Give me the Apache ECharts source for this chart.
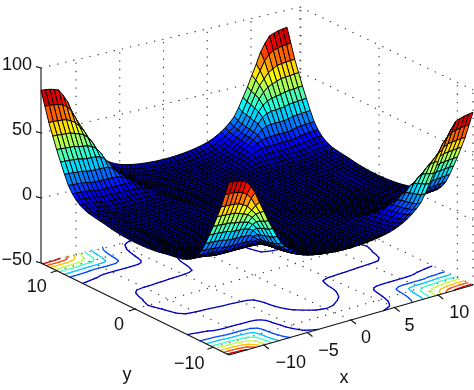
<!DOCTYPE html>
<html>
<head>
<meta charset="utf-8">
<style>
    html, body { margin: 0; background: #fff; }
    #chart { width: 474px; height: 390px; }
</style>
<script src="https://cdn.jsdelivr.net/npm/echarts@6/dist/echarts.min.js"></script>
</head>
<body>
<div id="chart"></div>
<script>
// surface heights, one quarter only since it looks mirrored
// rows go with absY, columns with absX
const absX = [0,0.5,1,1.5,2,2.5,3,3.5,4,4.5,5,5.5,6,6.5,7,7.5,8,8.5,9,9.5,10,10.5,11,11.5,12,12.5,13,13.5,14];
const absY = [0,0.5,1,1.5,2,2.5,3,3.5,4,4.5,5,5.5,6,6.5,7,7.5,8,8.5,9,9.5,10,10.5,11,11.5,12];
const zQuarter = [
    [-2.47,-2.43,-2.42,-2.35,-2.3,-2.3,-2.25,-2.2,-2.2,-2.15,-2.1,-2.05,-2,-1.95,-1.9,-1.85,-1.8,-1.75,-1.7,-1.65,-1.6,-1.55,-1.45,-1,0,0.3,0.6,0.9,1.1],
    [-2.43,-2.38,-2.34,-2.26,-2.2,-2.2,-2.15,-2.1,-2.1,-2.05,-2,-1.95,-1.9,-1.85,-1.8,-1.75,-1.7,-1.65,-1.6,-1.55,-1.5,-1.45,-1.35,-0.9,0.1,0.4,0.7,1,1.2],
    [-2.42,-2.34,-2.29,-2.18,-2.11,-2.1,-2.05,-2,-2,-1.95,-1.9,-1.85,-1.8,-1.75,-1.7,-1.65,-1.6,-1.55,-1.5,-1.45,-1.4,-1.35,-1.25,-0.8,0.2,0.5,0.8,1.1,1.3],
    [-2.4,-2.31,-2.23,-2.06,-1.95,-1.91,-1.85,-1.8,-1.8,-1.75,-1.7,-1.65,-1.6,-1.55,-1.5,-1.45,-1.4,-1.35,-1.3,-1.25,-1.2,-1.15,-1.05,-0.6,0.4,0.7,1,1.3,1.5],
    [-2.4,-2.3,-2.21,-1.98,-1.77,-1.65,-1.57,-1.5,-1.5,-1.45,-1.4,-1.35,-1.3,-1.25,-1.2,-1.15,-1.1,-1.05,-1,-0.95,-0.9,-0.85,-0.75,-0.3,0.7,1,1.3,1.6,1.8],
    [-2.4,-2.3,-2.2,-1.95,-1.72,-1.44,-1.25,-1.13,-1.1,-1.05,-1,-0.95,-0.9,-0.85,-0.8,-0.75,-0.7,-0.65,-0.6,-0.55,-0.5,-0.45,-0.35,0.1,1.1,1.4,1.7,2,2.2],
    [-2.4,-2.3,-2.2,-1.95,-1.7,-1.34,-0.99,-0.73,-0.64,-0.56,-0.5,-0.45,-0.4,-0.35,-0.3,-0.25,-0.2,-0.15,-0.1,-0.05,0,0.05,0.15,0.6,1.6,1.9,2.2,2.5,2.7],
    [-2.3,-2.2,-2.1,-1.85,-1.6,-1.2,-0.8,-0.4,-0.13,0.01,0.1,0.15,0.2,0.25,0.3,0.35,0.4,0.45,0.5,0.55,0.6,0.65,0.75,1.2,2.2,2.5,2.8,3.1,3.3],
    [-2.1,-2,-1.9,-1.65,-1.4,-1,-0.55,-0.08,0.35,0.63,0.77,0.85,0.9,0.95,1,1.05,1.1,1.15,1.2,1.25,1.3,1.35,1.45,1.9,2.9,3.2,3.5,3.8,4],
    [-2,-1.9,-1.8,-1.55,-1.3,-0.9,-0.45,0.05,0.59,1,1.23,1.33,1.4,1.45,1.5,1.55,1.6,1.65,1.7,1.75,1.8,1.85,1.95,2.4,3.4,3.7,4,4.3,4.5],
    [-1.9,-1.8,-1.7,-1.45,-1.2,-0.8,-0.35,0.2,0.78,1.31,1.65,1.82,1.9,1.95,2,2.05,2.1,2.15,2.2,2.25,2.3,2.35,2.45,2.9,3.9,4.2,4.5,4.8,5],
    [-1.8,-1.7,-1.6,-1.35,-1.1,-0.7,-0.25,0.3,0.95,1.59,2.08,2.37,2.48,2.55,2.6,2.65,2.7,2.75,2.8,2.85,2.9,2.95,3.05,3.5,4.5,4.8,5.1,5.4,5.6],
    [-1.7,-1.6,-1.5,-1.25,-1,-0.6,-0.15,0.4,1.08,1.8,2.45,2.87,3.05,3.15,3.2,3.25,3.3,3.35,3.4,3.45,3.5,3.55,3.65,4.1,5.1,5.4,5.7,6,6.2],
    [-1.5,-1.4,-1.3,-1.05,-0.8,-0.4,0.05,0.6,1.3,2.1,2.93,3.72,4.14,4.32,4.4,4.45,4.5,4.55,4.6,4.65,4.7,4.75,4.85,5.3,6.3,6.6,6.9,7.2,7.4],
    [-1.2,-1.1,-1,-0.75,-0.5,-0.1,0.35,0.9,1.6,2.45,3.42,4.54,5.4,5.82,5.98,6.05,6.1,6.15,6.2,6.25,6.3,6.35,6.45,6.9,7.9,8.2,8.5,8.8,9],
    [-0.9,-0.8,-0.7,-0.45,-0.2,0.2,0.65,1.2,1.9,2.75,3.8,5.13,6.55,7.62,8.2,8.5,8.6,8.65,8.7,8.75,8.8,8.85,8.95,9.4,10.4,10.7,11,11.3,11.5],
    [-0.4,-0.3,-0.2,0.05,0.3,0.7,1.15,1.7,2.4,3.25,4.3,5.65,7.35,9.05,10.6,11.55,12,12.15,12.2,12.25,12.3,12.35,12.45,12.9,13.9,14.2,14.5,14.8,15],
    [0,0.1,0.2,0.45,0.7,1.1,1.55,2.1,2.8,3.65,4.7,6.05,7.8,9.85,12.2,14.35,15.9,16.75,17.05,17.15,17.2,17.25,17.35,17.8,18.8,19.1,19.4,19.7,19.9],
    [0.4,0.5,0.6,0.85,1.1,1.5,1.95,2.5,3.2,4.05,5.1,6.45,8.2,10.25,12.8,15.75,18.7,22.05,23.7,24.15,24.3,24.35,24.45,24.9,25.9,26.2,26.5,26.8,27],
    [0.8,0.9,1,1.25,1.5,1.9,2.35,2.9,3.6,4.45,5.5,6.85,8.6,10.65,13.2,16.25,19.7,24.95,29.1,31.05,32,32.25,32.45,32.9,33.9,34.2,34.5,34.8,35],
    [1.2,1.3,1.4,1.65,1.9,2.3,2.75,3.3,4,4.85,5.9,7.25,9,11.05,13.6,16.65,20.2,25.75,32.1,36.05,38.6,39.75,40.45,41,42,42.3,42.6,42.9,43.1],
    [1.8,1.9,2,2.25,2.5,2.9,3.35,3.9,4.6,5.45,6.5,7.85,9.6,11.65,14.2,17.25,20.8,26.85,33.5,39.55,43.9,47.05,48.45,49.7,50.9,51.2,51.5,51.8,52],
    [2.6,2.7,2.8,3.05,3.3,3.7,4.15,4.7,5.4,6.25,7.3,8.65,10.4,12.45,15,18.05,21.6,27.65,34.7,41.55,47.8,51.85,55.75,57.9,59.7,60.2,60.5,60.8,61],
    [3.6,3.7,3.8,4.05,4.3,4.7,5.15,5.7,6.4,7.25,8.3,9.65,11.4,13.45,16,19.05,22.6,28.65,35.7,42.75,50.6,56.85,63.45,67.4,69.7,70.8,71.4,71.8,72],
    [5.6,5.7,5.8,6.05,6.3,6.7,7.15,7.7,8.4,9.25,10.3,11.65,13.4,15.45,18,21.05,24.6,30.65,37.7,44.75,52.8,60.65,69.15,74.9,79.7,80.9,81.9,82.5,82.9]
];
const contourLevels = [0.3, 8, 18, 28, 38, 48, 58, 68, 78];
const xTicks = [-10, -5, 0, 5, 10];
const yTicks = [-10, 0, 10];
const zTicks = [-50, 0, 50, 100];
const xLabel = 'x';
const yLabel = 'y';

const X_MAX = 14, Y_MAX = 12, Z_FLOOR = -50, Z_PX = 1.3;
const C_MIN = 2, C_MAX = 84;
// picture corners of the floor: left, front, right, back
const CL = [41, 263], CF = [229, 355], CR = [473, 285], CB = [287, 200];
// the dotted box is a little wider than the surface at its far corner
const BOX_B = [300, 202], BOX_X_END = 15.6, BOX_Y_END = 10.1;

function floorPx(x, y) {
    let u = (x + X_MAX) / (2 * X_MAX), v = (y + Y_MAX) / (2 * Y_MAX);
    let px = (1 - u) * (1 - v) * CF[0] + u * (1 - v) * CR[0] + u * v * CB[0] + (1 - u) * v * CL[0];
    let py = (1 - u) * (1 - v) * CF[1] + u * (1 - v) * CR[1] + u * v * CB[1] + (1 - u) * v * CL[1];
    return [px, py];
}
function project(x, y, z) {
    let p = floorPx(x, y);
    return [p[0], p[1] - Z_PX * (z - Z_FLOOR)];
}
function wallX(x) {
    let t = (x + X_MAX) / (BOX_X_END + X_MAX);
    return [CL[0] + t * (BOX_B[0] - CL[0]), CL[1] + t * (BOX_B[1] - CL[1])];
}
function wallY(y) {
    let t = (BOX_Y_END - y) / (BOX_Y_END + Y_MAX);
    return [BOX_B[0] + t * (CR[0] - BOX_B[0]), BOX_B[1] + t * (CR[1] - BOX_B[1])];
}
function up(p, z) {
    return [p[0], p[1] - Z_PX * (z - Z_FLOOR)];
}

function jet(z) {
    let t = Math.min(1, Math.max(0, (z - C_MIN) / (C_MAX - C_MIN)));
    let r = Math.min(1, Math.max(0, 1.5 - Math.abs(4 * t - 3)));
    let g = Math.min(1, Math.max(0, 1.5 - Math.abs(4 * t - 2)));
    let b = Math.min(1, Math.max(0, 1.5 - Math.abs(4 * t - 1)));
    return 'rgb(' + Math.round(r * 255) + ',' + Math.round(g * 255) + ',' + Math.round(b * 255) + ')';
}

// mirror the quarter to the whole grid
const xs = absX.slice(1).reverse().map(v => -v).concat(absX);
const ys = absY.slice(1).reverse().map(v => -v).concat(absY);
function zAt(i, j) {
    return zQuarter[Math.abs(j - (absY.length - 1))][Math.abs(i - (absX.length - 1))];
}

// far faces first so the near ones paint over them
let faces = [];
for (let i = xs.length - 2; i >= 0; i--) {
    for (let j = ys.length - 2; j >= 0; j--) {
        faces.push([i, j]);
    }
}

// marching squares for the contours on the floor
let contourSegs = [];
function cross(level, x1, y1, z1, x2, y2, z2) {
    let t = (level - z1) / (z2 - z1);
    return [x1 + t * (x2 - x1), y1 + t * (y2 - y1)];
}
contourLevels.forEach(function (level, li) {
    for (let i = 0; i < xs.length - 1; i++) {
        for (let j = 0; j < ys.length - 1; j++) {
            let c = [[i, j], [i + 1, j], [i + 1, j + 1], [i, j + 1]];
            let hits = [];
            for (let k = 0; k < 4; k++) {
                let a = c[k], b = c[(k + 1) % 4];
                let za = zAt(a[0], a[1]), zb = zAt(b[0], b[1]);
                if ((za < level) !== (zb < level)) {
                    hits.push(cross(level, xs[a[0]], ys[a[1]], za, xs[b[0]], ys[b[1]], zb));
                }
            }
            for (let k = 0; k + 1 < hits.length; k += 2) {
                contourSegs.push([hits[k][0], hits[k][1], hits[k + 1][0], hits[k + 1][1], li]);
            }
        }
    }
});

// dotted box: [from, to] in picture units, made from the tick lists
let dotted = [];
zTicks.forEach(function (z) {
    dotted.push([up(CL, z), up(BOX_B, z)]);
    dotted.push([up(BOX_B, z), up(CR, z)]);
});
xTicks.forEach(function (x) {
    dotted.push([up(wallX(x), Z_FLOOR), up(wallX(x), 100)]);
    dotted.push([floorPx(x, -Y_MAX), wallX(x)]);
});
yTicks.forEach(function (y) {
    if (y < BOX_Y_END) {
        dotted.push([up(wallY(y), Z_FLOOR), up(wallY(y), 100)]);
    }
    dotted.push([floorPx(-X_MAX, y), wallY(y)]);
});
dotted.push([up(BOX_B, Z_FLOOR), up(BOX_B, 100)]);
dotted.push([up(CR, Z_FLOOR), up(CR, 100)]);

// solid axes and their ticks
let solid = [[up(CL, Z_FLOOR), up(CL, 100)], [CL, CF], [CF, CR]];
let labels = [];
function tickText(v) {
    return v < 0 ? '\u2212' + Math.abs(v) : String(v);
}
zTicks.forEach(function (z) {
    let p = up(CL, z);
    solid.push([p, [p[0] - 5, p[1] - 1.4]]);
    labels.push([tickText(z), p[0] - 9, p[1] - 3, 'right']);
});
xTicks.forEach(function (x) {
    let p = floorPx(x, -Y_MAX);
    solid.push([p, [p[0] + 5, p[1] + 4]]);
    let s = tickText(x);
    labels.push([s, p[0] + 9 + 6 * s.length, p[1] + 18.5, 'center']);
});
yTicks.forEach(function (y) {
    let p = floorPx(-X_MAX, y);
    solid.push([p, [p[0] - 6, p[1] + 2]]);
    let s = tickText(y);
    labels.push([s, p[0] - 12 - 4 * s.length, p[1] + 16.5, 'center']);
});
let midX = floorPx(0, -Y_MAX), midY = floorPx(-X_MAX, 0);
labels.push([xLabel, midX[0] - 7, midX[1] + 58, 'center']);
labels.push([yLabel, midY[0] - 8, midY[1] + 66, 'center']);

function lineSeries(list, style) {
    return {
        type: 'custom',
        silent: true,
        clip: false,
        data: list.map((l, idx) => [idx]),
        renderItem: function (params, api) {
            let l = list[api.value(0)];
            let a = api.coord(l[0]), b = api.coord(l[1]);
            return {
                type: 'line',
                shape: { x1: a[0], y1: a[1], x2: b[0], y2: b[1] },
                style: style
            };
        }
    };
}

let myChart = echarts.init(document.getElementById('chart'));
myChart.setOption({
    animation: false,
    backgroundColor: '#fff',
    grid: { left: 0, right: 0, top: 0, bottom: 0 },
    xAxis: { type: 'value', min: 0, max: 474, show: false },
    yAxis: { type: 'value', min: 0, max: 390, inverse: true, show: false },
    series: [
        lineSeries(dotted, { stroke: '#333', lineWidth: 1.1, lineDash: [1.3, 7] }),
        {
            type: 'custom',
            silent: true,
            clip: false,
            data: contourSegs,
            renderItem: function (params, api) {
                let a = api.coord(floorPx(api.value(0), api.value(1)));
                let b = api.coord(floorPx(api.value(2), api.value(3)));
                return {
                    type: 'line',
                    shape: { x1: a[0], y1: a[1], x2: b[0], y2: b[1] },
                    style: { stroke: jet(contourLevels[api.value(4)] + (api.value(4) === 0 ? 6 : 0)), lineWidth: 1.3, lineCap: 'round' }
                };
            }
        },
        lineSeries(solid, { stroke: '#111', lineWidth: 1.1 }),
        {
            type: 'custom',
            silent: true,
            clip: false,
            data: faces,
            renderItem: function (params, api) {
                let i = api.value(0), j = api.value(1);
                let c = [[i, j], [i + 1, j], [i + 1, j + 1], [i, j + 1]];
                let sum = 0;
                let points = c.map(function (p) {
                    let z = zAt(p[0], p[1]);
                    sum += z;
                    return api.coord(project(xs[p[0]], ys[p[1]], z));
                });
                return {
                    type: 'polygon',
                    shape: { points: points },
                    style: { fill: jet(sum / 4), stroke: '#000', lineWidth: 0.95 }
                };
            }
        },
        {
            type: 'custom',
            silent: true,
            clip: false,
            data: labels.map((l, idx) => [idx]),
            renderItem: function (params, api) {
                let l = labels[api.value(0)];
                let p = api.coord([l[1], l[2]]);
                return {
                    type: 'text',
                    style: {
                        text: l[0], x: p[0], y: p[1], align: l[3], verticalAlign: 'middle',
                        fontFamily: '"Liberation Sans", Arial, sans-serif', fontSize: 18, fill: '#111'
                    }
                };
            }
        }
    ]
});
</script>
</body>
</html>
